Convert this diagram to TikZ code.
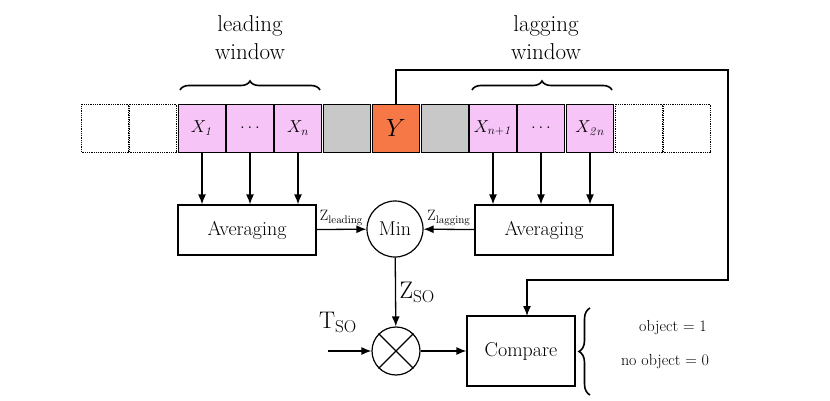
\documentclass[tikz,border=0pt]{standalone}
\usepackage{tikz}
\usetikzlibrary{decorations.pathreplacing,arrows.meta}
\definecolor{cellpink}{RGB}{246,196,246}
\definecolor{cellgray}{RGB}{200,200,200}
\definecolor{cellorange}{RGB}{245,120,70}
\tikzset{
  cell/.style={draw, line width=0.8pt, minimum width=47pt, minimum height=48pt, inner sep=0pt, font=\fontsize{18}{20}\selectfont},
  blank/.style={cell, densely dotted, line width=0.6pt},
  block/.style={draw, line width=1.2pt, minimum width=138pt, minimum height=50pt, font=\fontsize{20}{24}\selectfont},
  arr/.style={line width=1.3pt, -{Latex[length=10pt,width=8pt]}},
}
\begin{document}
\begin{tikzpicture}[x=1pt,y=-1pt]
  \useasboundingbox (0,0) rectangle (830,401);
  % sliding window
  \node[blank] (c1) at (105,128) {};
  \node[blank] (c2) at (153,128) {};
  \node[cell, fill=cellpink] (x1) at (202,128) {$X_{\mathit{1}}$};
  \node[cell, fill=cellpink] (x2) at (250,128) {$\ldots$};
  \node[cell, fill=cellpink] (x3) at (298,128) {$X_{n}$};
  \node[cell, fill=cellgray] (g1) at (347,128) {};
  \node[cell, fill=cellorange, font=\fontsize{26}{28}\selectfont] (y) at (396,128) {$Y$};
  \node[cell, fill=cellgray] (g2) at (445,128) {};
  \node[cell, fill=cellpink] (x4) at (493,128) {$X_{n+\mathit{1}}$};
  \node[cell, fill=cellpink] (x5) at (541,128) {$\ldots$};
  \node[cell, fill=cellpink] (x6) at (590,128) {$X_{\mathit{2}n}$};
  \node[blank] (c3) at (639,128) {};
  \node[blank] (c4) at (687,128) {};
  % window braces
  \draw[line width=1.6pt, decorate, decoration={brace, amplitude=9pt}] (180,90) -- (320,90);
  \draw[line width=1.6pt, decorate, decoration={brace, amplitude=9pt}] (472,90) -- (612,90);
  \node[align=center, font=\fontsize{23}{28}\selectfont] (lead) at (250,38) {leading\\window};
  \node[align=center, font=\fontsize{23}{28}\selectfont] (lag) at (546,38) {lagging\\window};
  % blocks
  \node[block] (avl) at (247,230) {Averaging};
  \node[block] (avr) at (544,230) {Averaging};
  \node[draw, line width=1.2pt, circle, minimum size=56pt, inner sep=0pt, font=\fontsize{20}{24}\selectfont] (min) at (395,229) {Min};
  \node[draw, line width=1.2pt, circle, minimum size=48pt] (mul) at (396,351) {};
  \draw[line width=1.2pt] (mul.45) -- (mul.225) (mul.135) -- (mul.315);
  \node[draw, line width=1.2pt, minimum width=108pt, minimum height=70pt, font=\fontsize{20}{24}\selectfont] (cmp) at (521,351) {Compare};
  \coordinate (tin) at (328,351);
  \coordinate (fbtop) at (728,70);
  \coordinate (fbbot) at (527,280);
  \coordinate (cmpin) at (527,316);
  \node[font=\fontsize{24}{26}\selectfont] (tso) at (338,322) {T$_{\mathrm{SO}}$};
  % connectors
  \foreach \c in {x1,x2,x3}
    \draw[arr] (\c.south) -- (\c.south |- avl.north);
  \foreach \c in {x4,x5,x6}
    \draw[arr] (\c.south) -- (\c.south |- avr.north);
  \draw[arr] (avl) -- node[above, font=\fontsize{15}{17}\selectfont]{Z$_{\mathrm{leading}}$} (min);
  \draw[arr] (avr) -- node[above, font=\fontsize{15}{17}\selectfont]{Z$_{\mathrm{lagging}}$} (min);
  \draw[arr] (min) -- node[right, font=\fontsize{24}{26}\selectfont]{Z$_{\mathrm{SO}}$} (mul);
  \draw[arr] (tin) -- (mul);
  \draw[arr] (mul) -- (cmp);
  \draw[arr] (y.north) |- (fbtop) |- (fbbot) -- (cmpin);
  % decision
  \draw[line width=1.6pt, decorate, decoration={brace, amplitude=11pt}] (590,395) -- (590,308);
  \node[font=\fontsize{16}{18}\selectfont] (obj) at (673,328) {object = 1};
  \node[font=\fontsize{16}{18}\selectfont] (nobj) at (665,362) {no object = 0};
\end{tikzpicture}
\end{document}
